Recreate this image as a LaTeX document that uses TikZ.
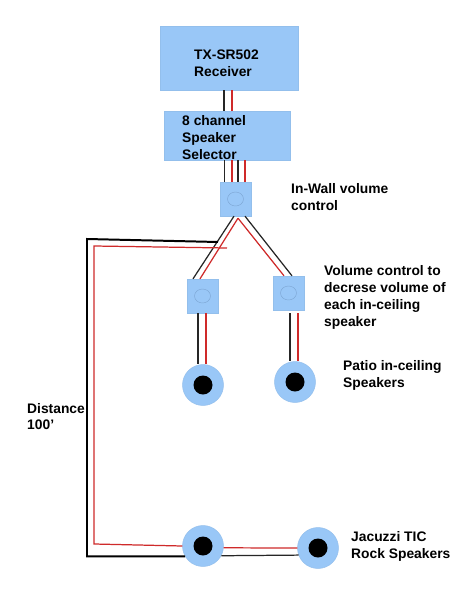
\documentclass[tikz,border=0pt]{standalone}
\usepackage{fontspec}
\setmainfont{Liberation Sans}
\usepackage{xcolor}
\usetikzlibrary{positioning,calc,shapes.geometric}
\definecolor{softblue}{HTML}{99C7F7}
\definecolor{boxedge}{HTML}{93BFEC}
\definecolor{knobedge}{HTML}{7FA8D6}
\definecolor{wirered}{HTML}{CF2A2A}
\begin{document}
\begin{tikzpicture}[x=0.03cm,y=-0.03cm]
\tikzstyle{box}=[draw=boxedge,fill=softblue,inner sep=0pt,line width=0.3pt]
\tikzstyle{ctrlbox}=[box,minimum width=0.93cm,minimum height=1.02cm]
\tikzstyle{knob}=[draw=knobedge,fill=softblue,ellipse,inner sep=0pt,minimum width=0.48cm,minimum height=0.42cm,line width=0.4pt]
\tikzstyle{speaker}=[circle,draw=boxedge,fill=softblue,inner sep=0pt,minimum size=1.23cm]
\tikzstyle{cone}=[circle,fill=black,inner sep=0pt,minimum size=0.57cm]
\tikzstyle{caption}=[anchor=west,align=left,inner sep=0pt,font=\fontsize{11.8}{14.4}\selectfont\bfseries]
\tikzstyle{blackwire}=[black!85,line width=1.05pt]
\tikzstyle{redwire}=[wirered,line width=1.05pt]
\tikzstyle{longblack}=[black,line width=1.7pt,line join=miter]
\useasboundingbox[fill=white] (0,0) rectangle (474,613);
% blue boxes
\node[box,minimum width=4.14cm,minimum height=1.92cm] (receiver) at (229,58) {};
\node[box,minimum width=3.78cm,minimum height=1.47cm] (selector) at (227,135.5) {};
\node[ctrlbox] (wallctrl) at (235.5,199) {};
\node[ctrlbox] (leftctrl) at (202.5,296) {};
\node[ctrlbox] (rightctrl) at (288.5,293) {};
\node[knob] (wallknob) at (wallctrl) {};
\node[knob] (leftknob) at (leftctrl) {};
\node[knob] (rightknob) at (rightctrl) {};
% speakers
\node[speaker] (patioleft) at (203,385) {};
\node[speaker] (patioright) at (295,382) {};
\node[speaker] (jacuzzileft) at (203,546) {};
\node[speaker] (jacuzziright) at (318,548) {};
\node[cone] (patioleftcone) at (patioleft) {};
\node[cone] (patiorightcone) at (patioright) {};
\node[cone] (jacuzzileftcone) at (jacuzzileft) {};
\node[cone] (jacuzzirightcone) at (jacuzziright) {};
% wires between the boxes
\draw[blackwire] ($(receiver.south)+(-5,0)$)--($(selector.north)+(-3,0)$);
\draw[redwire] ($(receiver.south)+(3,0)$)--($(selector.north)+(5,0)$);
\draw[blackwire] ($(selector.south)+(-2.5,0)$)--($(wallctrl.north)+(-11,0)$);
\draw[redwire] ($(selector.south)+(5,0)$)--($(wallctrl.north)+(-3.5,0)$);
\draw[blackwire] ($(selector.south)+(11,0)$)--($(wallctrl.north)+(2.5,0)$);
\draw[redwire] ($(selector.south)+(18,0)$)--($(wallctrl.north)+(9.5,0)$);
\draw[blackwire] ($(wallctrl.south)+(-1.5,0)$)--($(leftctrl.north)+(-9.5,0)$);
\draw[redwire] ($(wallctrl.south)+(2.5,2)$)--($(leftctrl.north)+(-2.5,0)$);
\draw[redwire] ($(wallctrl.south)+(2.5,2)$)--($(rightctrl.north)+(-4.5,0)$);
\draw[blackwire] ($(wallctrl.south)+(9.5,0)$)--($(rightctrl.north)+(3.5,0)$);
\draw[blackwire] ($(leftctrl.south)+(-4.5,0)$)--($(patioleft.north)+(-5,0)$);
\draw[redwire] ($(leftctrl.south)+(3.5,0)$)--($(patioleft.north)+(3,0)$);
\draw[blackwire] ($(rightctrl.south)+(1.5,3)$)--($(patioright.north)+(-5,0)$);
\draw[redwire] ($(rightctrl.south)+(9.5,3)$)--($(patioright.north)+(3,0)$);
% long run to the rock speakers
\coordinate (blacktap) at (218,242);
\coordinate (blackcorner) at (87,239);
\coordinate (redtap) at (227,248);
\coordinate (redcorner) at (94,246);
\draw[longblack] (blacktap)--(blackcorner)--(blackcorner |- jacuzzileft.210)--(jacuzzileft.210);
\draw[redwire] (redtap)--(redcorner)--(94,544)--(jacuzzileft.west);
\draw[blackwire] (jacuzzileft.332)--(jacuzziright.200);
\draw[redwire] (jacuzzileft.355)--(jacuzziright.west);
% texts
\node[caption] (receivertext) at (194,63) {TX-SR502\\Receiver};
\node[caption] (selectortext) at (182,137.5) {8 channel\\Speaker\\Selector};
\node[caption] (walltext) at (291,197) {In-Wall volume\\control};
\node[caption] (ctrltext) at (324,297.5) {Volume control to\\decrese volume of\\each in-ceiling\\speaker};
\node[caption] (patiotext) at (343,375.5) {Patio in-ceiling\\Speakers};
\node[caption] (jacuzzitext) at (351,546) {Jacuzzi TIC\\Rock Speakers};
\node[caption] (distancetext) at (27,416.5) {Distance\\100'};
\end{tikzpicture}
\end{document}
